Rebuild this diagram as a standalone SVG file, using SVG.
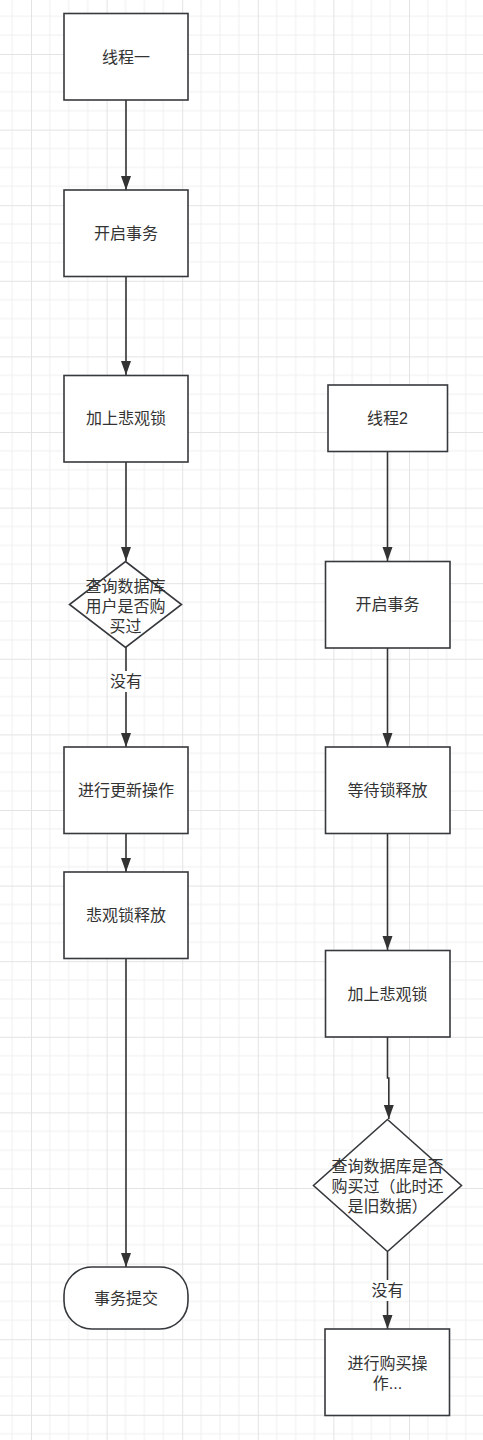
<svg xmlns="http://www.w3.org/2000/svg" width="483" height="1440" viewBox="0 0 483 1440">
<defs>
<pattern id="grid" x="31" y="54" width="75.6" height="75.6" patternUnits="userSpaceOnUse">
<path d="M18.9 0V75.6M37.8 0V75.6M56.7 0V75.6M0 18.9H75.6M0 37.8H75.6M0 56.7H75.6" stroke="#f0f0f0" stroke-width="1" fill="none"/>
<path d="M0.5 0V75.6M0 0.5H75.6" stroke="#e3e3e3" stroke-width="1" fill="none"/>
</pattern>
<marker id="arr" markerUnits="userSpaceOnUse" markerWidth="16" markerHeight="12" refX="14" refY="5" orient="auto" viewBox="0 0 16 10">
<path d="M0 0L14 5L0 10Z" fill="#333333"/>
</marker>
</defs>
<style>
.n{fill:#ffffff;stroke:#36393d;stroke-width:1.6}
.t{font-family:"Liberation Sans","Noto Sans CJK SC",sans-serif;font-size:16px;fill:#333333;text-anchor:middle;dominant-baseline:central}
.e{fill:none;stroke:#333333;stroke-width:1.6;marker-end:url(#arr)}
.lb{fill:#ffffff}
</style>
<rect width="483" height="1440" fill="#ffffff"/>
<rect width="483" height="1440" fill="url(#grid)"/>
<g id="connectors">
<path class="e" d="M126 100V190"/>
<path class="e" d="M126 276V375"/>
<path class="e" d="M126 462V561"/>
<path class="e" d="M126 647V747"/>
<path class="e" d="M126 833V872"/>
<path class="e" d="M126 958V1267"/>
<path class="e" d="M387.5 452V561"/>
<path class="e" d="M387.5 648V747"/>
<path class="e" d="M387.5 833V950"/>
<path class="e" d="M387.5 1037V1078H388.8V1119"/>
<path class="e" d="M387.5 1252V1329"/>
<rect class="lb" x="108" y="671" width="36" height="21"/>
<text class="t" x="126" y="681.5">没有</text>
<rect class="lb" x="369.5" y="1280" width="36" height="21"/>
<text class="t" x="387.5" y="1290.5">没有</text>
</g>
<g id="n1"><rect class="n" x="64" y="13.5" width="124" height="86.5"/><text class="t" x="126" y="57">线程一</text></g>
<g id="n2"><rect class="n" x="64" y="190" width="124" height="86.5"/><text class="t" x="126" y="233">开启事务</text></g>
<g id="n3"><rect class="n" x="64" y="375.5" width="124" height="86.5"/><text class="t" x="126" y="418.5">加上悲观锁</text></g>
<g id="n4"><path class="n" d="M125.5 561.5L181.5 604.5L125.5 647.5L69.5 604.5Z"/><text class="t" x="125.5" y="586">查询数据库</text><text class="t" x="125.5" y="606">用户是否购</text><text class="t" x="125.5" y="626">买过</text></g>
<g id="n5"><rect class="n" x="64" y="747" width="124" height="86.5"/><text class="t" x="126" y="790">进行更新操作</text></g>
<g id="n6"><rect class="n" x="64" y="872" width="124" height="86.5"/><text class="t" x="126" y="915">悲观锁释放</text></g>
<g id="n7"><rect class="n" x="64" y="1267" width="124" height="62" rx="28" ry="28"/><text class="t" x="126" y="1298">事务提交</text></g>
<g id="m1"><rect class="n" x="328" y="385" width="119.5" height="66.5"/><text class="t" x="387.5" y="418.5">线程2</text></g>
<g id="m2"><rect class="n" x="325.5" y="561.5" width="124.5" height="86.5"/><text class="t" x="387.5" y="604.5">开启事务</text></g>
<g id="m3"><rect class="n" x="325.5" y="747" width="124.5" height="86.5"/><text class="t" x="387.5" y="790">等待锁释放</text></g>
<g id="m4"><rect class="n" x="325.5" y="950.5" width="124.5" height="86.5"/><text class="t" x="387.5" y="994">加上悲观锁</text></g>
<g id="m5"><path class="n" d="M387.5 1119.5L461.5 1185.5L387.5 1251.5L313.5 1185.5Z"/><text class="t" x="387.5" y="1166">查询数据库是否</text><text class="t" x="387.5" y="1186.5">购买过（此时还</text><text class="t" x="387.5" y="1206.5">是旧数据）</text></g>
<g id="m6"><rect class="n" x="325" y="1329" width="124.5" height="86.5"/><text class="t" x="387.5" y="1363">进行购买操</text><text class="t" x="387.5" y="1383">作...</text></g>
</svg>
